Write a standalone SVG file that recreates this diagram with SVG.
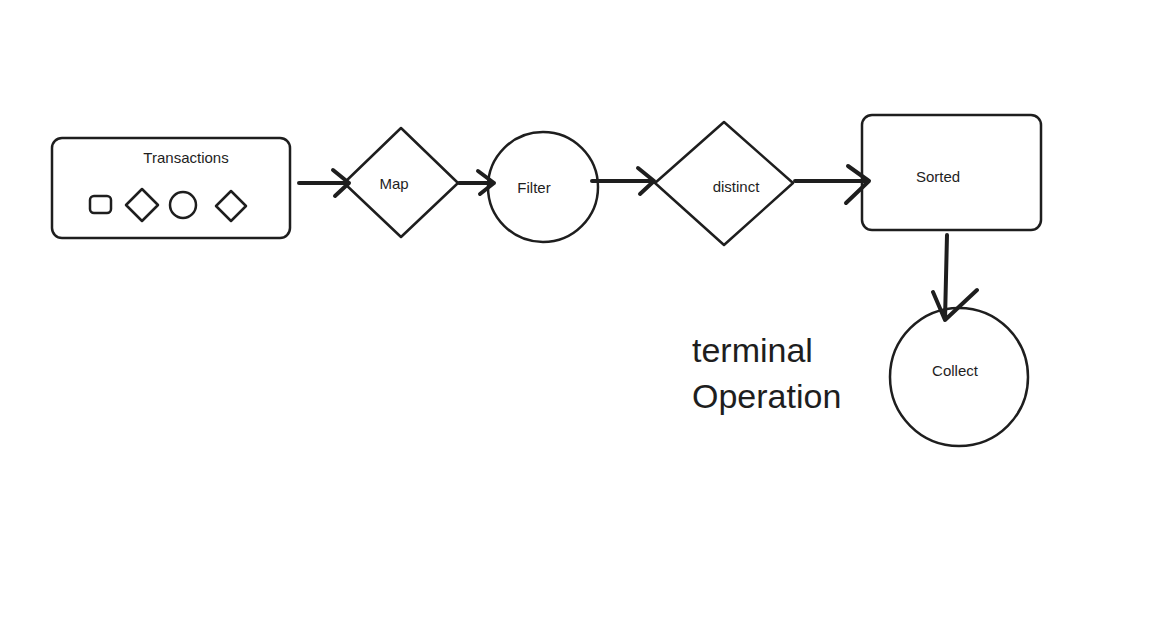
<svg xmlns="http://www.w3.org/2000/svg" width="1152" height="640" viewBox="0 0 1152 640">
<style>
.s{fill:none;stroke:#1e1e1e;stroke-width:2.5;stroke-linejoin:round}
.c{fill:none;stroke:#1e1e1e;stroke-width:4;stroke-linecap:round;stroke-linejoin:round}
.t{font-family:"Liberation Sans",Arial,sans-serif;font-size:15px;fill:#1e1e1e;text-anchor:middle}
.b{font-family:"Liberation Sans",Arial,sans-serif;font-size:34px;fill:#1e1e1e}
</style>
<rect width="1152" height="640" fill="#fff"/>
<g id="transactions">
<rect class="s" x="52" y="138" width="238" height="100" rx="10"/>
<text class="t" x="186" y="163">Transactions</text>
<rect class="s" x="90" y="196" width="21" height="17" rx="4"/>
<path class="s" d="M142 189 L158 205 L142 221 L126 205 Z"/>
<circle class="s" cx="183" cy="205" r="13"/>
<path class="s" d="M231 191 L246 206 L231 221 L216 206 Z"/>
</g>
<g id="map">
<path class="s" d="M401 128 L458 183 L401 237 L344 183 Z"/>
<text class="t" x="394" y="189">Map</text>
</g>
<g id="filter">
<circle class="s" cx="543" cy="187" r="55"/>
<text class="t" x="534" y="193">Filter</text>
</g>
<g id="distinct">
<path class="s" d="M724 122 L793 183 L724 245 L655 183 Z"/>
<text class="t" x="736" y="192">distinct</text>
</g>
<g id="sorted">
<rect class="s" x="862" y="115" width="179" height="115" rx="10"/>
<text class="t" x="938" y="182">Sorted</text>
</g>
<g id="collect">
<circle class="s" cx="959" cy="377" r="69"/>
<text class="t" x="955" y="376">Collect</text>
</g>
<g id="label">
<text class="b" x="692" y="362">terminal</text>
<text class="b" x="692" y="408">Operation</text>
</g>
<g id="connectors">
<path class="c" d="M299 183 L349 183 M333 170 L349 183 L335 196"/>
<path class="c" d="M459 183 L494 183 M478 171 L494 183 L480 194"/>
<path class="c" d="M592 181 L654 181 M638 168 L654 181 L640 194"/>
<path class="c" d="M795 181 L869 181 M848 166 L869 181 L846 203"/>
<path class="c" d="M947 235 L945 320 M933 292 L945 320 L977 290"/>
</g>
</svg>
